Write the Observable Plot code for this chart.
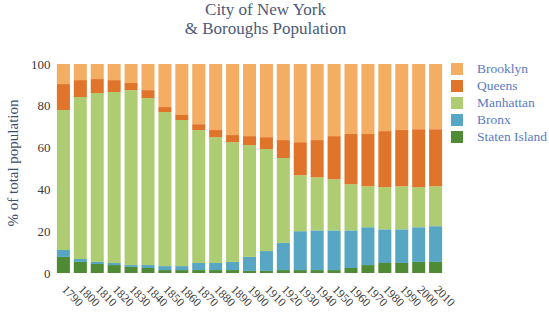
<!DOCTYPE html>
<html>
<head>
<meta charset="utf-8">
<script src="https://cdn.jsdelivr.net/npm/d3@7"></script>
<script src="https://cdn.jsdelivr.net/npm/@observablehq/plot@0.6"></script>
<style>
  body { margin: 0; background: #fff; }
  #wrap { position: relative; width: 549px; height: 322px; overflow: hidden; }
  #title { position: relative; width: 531px; height: 48px; font-family: "Liberation Serif", serif; font-size: 17px; color: #4b5a78; }
  #title div { position: absolute; left: 0; width: 100%; text-align: center; line-height: 20px; white-space: nowrap; }
  #legend { position: absolute; left: 451px; top: 62px; font-family: "Liberation Serif", serif; font-size: 13.5px; color: #5a7bc4; }
  #legend .row { position: relative; height: 17px; }
  #legend .sw { position: absolute; left: 0; top: 1px; width: 12px; height: 12px; }
  #legend .lab { position: absolute; left: 26px; top: -1px; line-height: 16px; white-space: nowrap; }
</style>
</head>
<body>
<div id="wrap">
  <div id="title"><div style="top:0px">City of New York</div><div style="top:19px">&amp; Boroughs Population</div></div>
  <div id="chart"></div>
  <div id="legend"></div>
</div>
<script>
const years = ["1790","1800","1810","1820","1830","1840","1850","1860","1870","1880","1890","1900",
               "1910","1920","1930","1940","1950","1960","1970","1980","1990","2000","2010"];
const boroughs = ["Brooklyn", "Queens", "Manhattan", "Bronx", "Staten Island"];
const colors = ["#f3ae63", "#e0742b", "#aecd73", "#57a6c3", "#4f8b34"];

// % of total population
const statenIsland = [7.7, 5.3, 4.3, 3.8, 2.9, 2.4, 1.4, 1.4, 1.4, 1.4, 1.4, 1.0, 1.0, 1.4, 1.4, 1.4, 1.4, 2.4, 3.8, 4.8, 4.8, 5.3, 5.3];
const bronx        = [3.3, 1.4, 1.0, 1.0, 0.9, 1.4, 1.9, 1.9, 3.4, 3.4, 3.9, 6.7, 9.5, 13.0, 18.6, 19.0, 19.0, 18.0, 18.1, 16.1, 16.1, 16.6, 17.1];
const manhattan    = [67.0, 77.5, 80.8, 81.8, 83.7, 79.9, 73.7, 69.9, 63.6, 60.2, 57.3, 53.5, 48.8, 40.6, 26.8, 25.4, 24.5, 22.1, 19.6, 20.2, 20.6, 19.2, 19.1];
const queens       = [12.4, 8.1, 6.7, 5.7, 3.4, 3.8, 2.4, 2.4, 2.8, 3.4, 3.4, 4.3, 5.7, 8.6, 15.8, 17.8, 20.6, 24.0, 25.0, 26.8, 26.9, 27.7, 27.3];
const brooklyn     = [9.6, 7.7, 7.2, 7.7, 9.1, 12.5, 20.6, 24.4, 28.8, 31.6, 34.0, 34.5, 35.0, 36.4, 37.4, 36.4, 34.5, 33.5, 33.5, 32.1, 31.6, 31.2, 31.2];
const yTicks = [0, 20, 40, 60, 80, 100];

const series = {"Staten Island": statenIsland, "Bronx": bronx, "Manhattan": manhattan, "Queens": queens, "Brooklyn": brooklyn};
const stackOrder = ["Staten Island", "Bronx", "Manhattan", "Queens", "Brooklyn"];
const rows = stackOrder.flatMap(b => years.map((y, i) => ({year: y, borough: b, value: series[b][i]})));

const chart = Plot.plot({
  width: 549,
  height: 274,
  marginLeft: 53,
  marginRight: 103,
  marginTop: 16,
  marginBottom: 49,
  style: {fontFamily: "Liberation Serif, serif", background: "white", color: "#3a3a3a"},
  x: {domain: years, padding: 0.23, round: false, label: null, axis: null},
  y: {domain: [0, 100], label: null},
  color: {domain: boroughs, range: colors},
  marks: [
    Plot.barY(rows, {x: "year", y: "value", fill: "borough", order: stackOrder}),
    Plot.axisY({ticks: yTicks, tickSize: 0, tickPadding: 3, fontSize: 13, label: null}),
    Plot.text(years, {x: d => d, text: d => d, frameAnchor: "bottom", rotate: 45, textAnchor: "start", lineAnchor: "middle", dy: 14, fontSize: 12, fill: "#3a3a3a"}),
    Plot.text(["% of total population"], {text: d => d, frameAnchor: "left", textAnchor: "middle", rotate: -90, dx: -40, dy: -6, fontSize: 15, fill: "#3e4e6e"})
  ]
});
document.getElementById("chart").appendChild(chart);

const legend = document.getElementById("legend");
boroughs.forEach((b, i) => {
  const row = document.createElement("div");
  row.className = "row";
  row.innerHTML = `<div class="sw" style="background:${colors[i]}"></div><div class="lab">${b}</div>`;
  legend.appendChild(row);
});
</script>
</body>
</html>
